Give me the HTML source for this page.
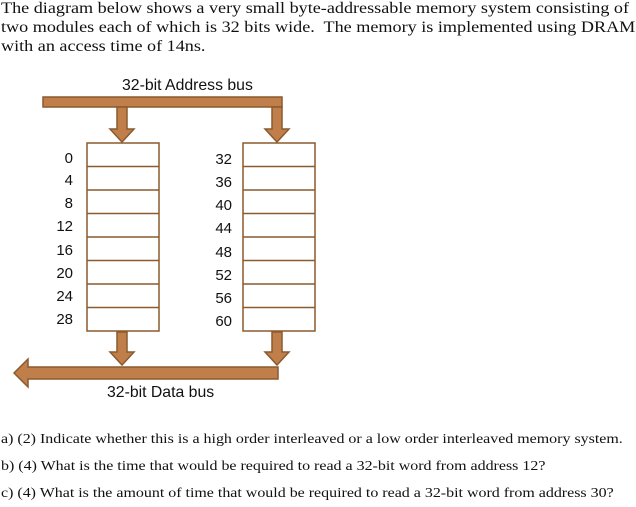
<!DOCTYPE html>
<html><head><style>
body{margin:0;width:636px;height:507px;background:#fff;position:relative;overflow:hidden;font-family:"Liberation Serif",serif;color:#111}
.t{position:absolute;left:1px;font-size:15.5px;white-space:nowrap;transform:scaleX(1.17);transform-origin:0 0}
.q{position:absolute;left:1px;font-size:14px;white-space:nowrap;transform:scaleX(1.14);transform-origin:0 0}
</style></head><body>
<div class="t" style="top:0px">The diagram below shows a very small byte-addressable memory system consisting of</div>
<div class="t" style="top:19px">two modules each of which is 32 bits wide.&nbsp; The memory is implemented using DRAM</div>
<div class="t" style="top:38px">with an access time of 14ns.</div>
<svg width="636" height="507" style="position:absolute;left:0;top:0" font-family="Liberation Sans, sans-serif" font-size="15" fill="#111">
<text x="122" y="90" font-size="15.8">32-bit Address bus</text>
<g fill="#c07f4a" stroke="#8b5a2e" stroke-width="1.5">
<rect x="43" y="97" width="239" height="10"/>
<path d="M117 107 h10 v22 h7 l-12 13 l-12 -13 h7 z"/>
<path d="M272 107 h10 v22 h7 l-12 13 l-12 -13 h7 z"/>
<path d="M117 332 h10 v20 h7 l-12 13 l-12 -13 h7 z"/>
<path d="M272 332 h10 v20 h7 l-12 13 l-12 -13 h7 z"/>
<path d="M278 367 v12 h-250 v8 l-14 -14 l14 -14 v8 z"/>
</g>
<g fill="none" stroke="#8b5a2e" stroke-width="1.5">
<rect x="87" y="143" width="72" height="188"/>
<rect x="243" y="143" width="72" height="188"/>
<path d="M87 166.5h72M87 190h72M87 213.5h72M87 237h72M87 260.5h72M87 284h72M87 307.5h72"/>
<path d="M243 166.5h72M243 190h72M243 213.5h72M243 237h72M243 260.5h72M243 284h72M243 307.5h72"/>
</g>
<g text-anchor="end">
<text x="73" y="163">0</text><text x="73" y="185">4</text><text x="73" y="208">8</text><text x="73" y="231">12</text>
<text x="73" y="255">16</text><text x="73" y="278">20</text><text x="73" y="301">24</text><text x="73" y="324">28</text>
<text x="232" y="164">32</text><text x="232" y="187">36</text><text x="232" y="210">40</text><text x="232" y="233">44</text>
<text x="232" y="257">48</text><text x="232" y="280">52</text><text x="232" y="303">56</text><text x="232" y="326">60</text>
</g>
<text x="107" y="397" font-size="15.8">32-bit Data bus</text>
</svg>
<div class="q" style="top:432px">a) (2) Indicate whether this is a high order interleaved or a low order interleaved memory system.</div>
<div class="q" style="top:459px">b) (4) What is the time that would be required to read a 32-bit word from address 12?</div>
<div class="q" style="top:486px">c) (4) What is the amount of time that would be required to read a 32-bit word from address 30?</div>
</body></html>
